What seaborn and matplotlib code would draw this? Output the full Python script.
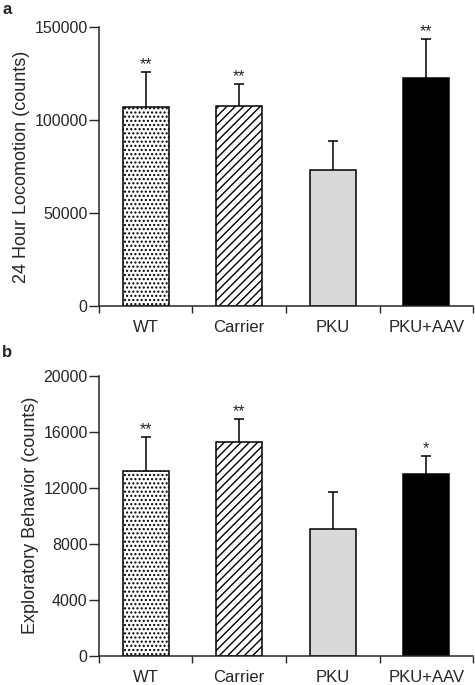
import numpy as np
import pandas as pd
import matplotlib
matplotlib.use("Agg")
import matplotlib.pyplot as plt
import seaborn as sns

groups = ["WT", "Carrier", "PKU", "PKU+AAV"]
loco_mean = [106800, 107700, 73300, 122400]
loco_sem = [19200, 11800, 15600, 21000]
loco_stars = ["**", "**", "", "**"]
explore_mean = [13200, 15250, 9070, 12980]
explore_sem = [2430, 1690, 2600, 1260]
explore_stars = ["**", "**", "", "*"]

fills = ["white", "white", "#d9d9d9", "black"]
hatches = ["....", "////", "", ""]

sns.set_style("ticks")
plt.rcParams["font.family"] = ["Liberation Sans", "DejaVu Sans"]
plt.rcParams["hatch.linewidth"] = 1.0
plt.rcParams["hatch.color"] = "black"

fig = plt.figure(figsize=(4.75, 6.85), dpi=100)
ax_a = fig.add_axes([0.208, 0.553, 0.788, 0.4075])
ax_b = fig.add_axes([0.208, 0.0428, 0.788, 0.4087])


def panel(ax, means, sems, stars, ylabel, ymax, ystep):
    df = pd.DataFrame({"group": groups, "value": means})
    sns.barplot(data=df, x="group", y="value", hue="group", palette=fills,
                width=0.49, errorbar=None, legend=False, ax=ax,
                edgecolor="black", linewidth=1.1, saturation=1)
    for p, h in zip(ax.patches, hatches):
        p.set_hatch(h)
    x = np.arange(len(groups))
    eb = ax.errorbar(x, means, yerr=[np.zeros(len(sems)), sems], fmt="none",
                     ecolor="black", elinewidth=1.1, capsize=3.6, capthick=1.1, zorder=1)
    eb[1][0].set_visible(False)  # only the upper cap
    for xi, m, s, st in zip(x, means, sems, stars):
        if st:
            ax.annotate(st, (xi, m + s), xytext=(0, 2), textcoords="offset points",
                        ha="center", va="baseline", fontsize=11.5)
    ax.set_xlim(-0.5, 3.5)
    ax.set_ylim(0, ymax)
    ax.set_yticks(np.arange(0, ymax + 1, ystep))
    ax.set_xticks(x)
    ax.set_xticklabels(groups, fontsize=12)
    ax.set_xticks(np.arange(-0.5, 3.6, 1), minor=True)
    ax.tick_params(axis="x", which="major", length=0, pad=10)
    ax.tick_params(axis="x", which="minor", length=5, width=1, direction="out")
    ax.tick_params(axis="y", length=7, width=1, labelsize=11.5, pad=1)
    ax.set_xlabel("")
    ax.set_ylabel(ylabel, fontsize=13, labelpad=3)
    for sp in ["left", "bottom"]:
        ax.spines[sp].set_linewidth(1.1)
    sns.despine(ax=ax)
    return ax


panel(ax_a, loco_mean, loco_sem, loco_stars, "24 Hour Locomotion (counts)", 150000, 50000)
panel(ax_b, explore_mean, explore_sem, explore_stars, "Exploratory Behavior (counts)", 20000, 4000)

fig.text(0.005, 0.997, "a", fontsize=12, fontweight="bold", va="top", ha="left")
fig.text(0.005, 0.497, "b", fontsize=12, fontweight="bold", va="top", ha="left")

fig.savefig("out.png", dpi=100)
